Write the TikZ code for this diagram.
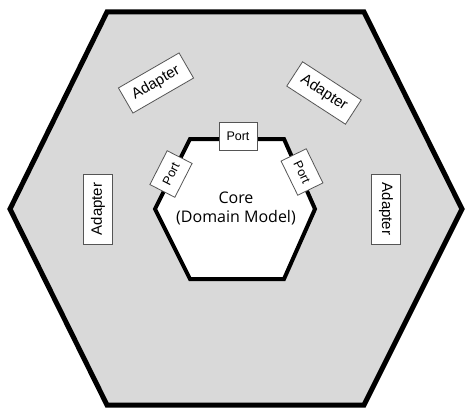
\documentclass[tikz,border=0pt]{standalone}
\usepackage{fontspec}
\setmainfont{Liberation Sans}
\newfontfamily\corefont{Open Sans}
\usetikzlibrary{calc}
\definecolor{ringgray}{HTML}{D9D9D9}
\definecolor{boxline}{HTML}{555555}
\def\adapternode{\node[box,minimum width=70pt,minimum height=29pt,font=\fontsize{15}{15}\selectfont]}
\def\portnode{\node[box,minimum width=38pt,minimum height=28pt,font=\fontsize{12.5}{12.5}\selectfont]}

\begin{document}
\begin{tikzpicture}[x=1pt,y=-1pt,
  box/.style={draw=boxline,fill=white,line width=0.8pt,inner sep=0pt}]
\useasboundingbox (0,0) rectangle (474,420);
% outer hexagon
\draw[line width=5pt,fill=ringgray] (107,12) -- (364,12) -- (462,209) -- (364,405)
  -- (107,405) -- (10,209) -- cycle;
% inner hexagon
\draw[line width=4pt,fill=white] (190,139) -- (284,139) -- (315,209) -- (284,279)
  -- (190,279) -- (155,209) -- cycle;
\node[font=\corefont\fontsize{16}{19}\selectfont,align=center] (core) at (236,208)
  {Core\\(Domain Model)};
\adapternode[rotate=90] (adl) at (98,209) {Adapter};
\adapternode[rotate=-90] (adr) at (386,209) {Adapter};
\adapternode[rotate=30] (adtl) at (156,83) {Adapter};
\adapternode[rotate=-33] (adtr) at (324,93) {Adapter};
\portnode (pt) at (238,136) {Port};
\portnode[rotate=63] (pl) at (171,174) {Port};
\portnode[rotate=-64] (pr) at (302,172) {Port};
\end{tikzpicture}
\end{document}
